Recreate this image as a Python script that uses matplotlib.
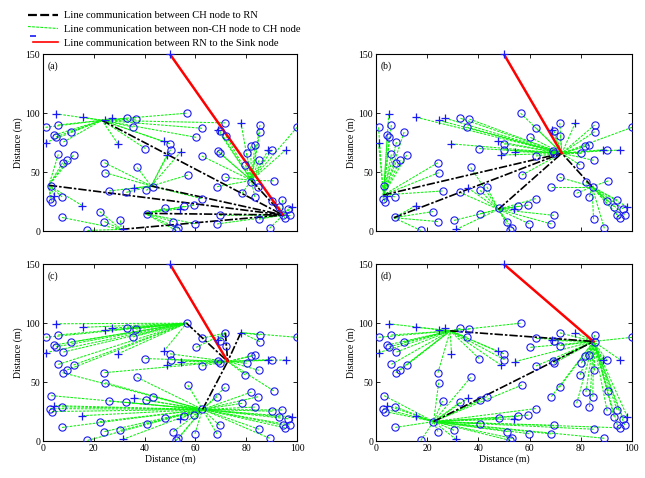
"""
Cluster layouts of the sensor field for four rounds.
"""
import numpy as np
import matplotlib
matplotlib.use("Agg")
from matplotlib import pyplot as plt
from matplotlib.lines import Line2D

plt.rcParams["font.family"] = ["Liberation Serif", "DejaVu Serif"]
plt.rcParams["font.size"] = 7

# sensor nodes drawn with circles
circle_x = [1, 6, 4.5, 5.2, 8, 11, 6, 7.7, 9.5, 12,
            3.2, 2.8, 3.5, 7.5, 7.5, 17.5, 22.3, 24.2, 30.5, 24.2,
            24.5, 26, 32.8, 40.7, 43.3, 37, 33, 36.5, 35.4, 40.3,
            50, 50.2, 56.5, 60.3, 62.6, 62.5, 57, 40.8, 48, 55.6,
            59.5, 62.4, 51.3, 52.4, 53.3, 59.8, 68.5, 69.5, 68.5, 71.7,
            78.4, 83.4, 82, 84.7, 85, 89.2, 90.8, 85, 90.1, 80.2,
            81.8, 83.4, 79.7, 69, 69.6, 69.5, 71.8, 72, 85.4, 85.4,
            100, 90.3, 93, 94.2, 94.3, 95.2, 97.1, 96.6]
circle_y = [88, 90, 81.5, 80, 75.5, 84, 65, 58, 60.3, 64.5,
            38.5, 27.5, 25, 29, 11.5, 0.5, 16.5, 8, 9, 58,
            49.5, 34, 32.8, 34.5, 37.6, 54, 95.7, 95, 88.3, 70,
            74, 69, 100, 79.5, 87.2, 63.7, 47.5, 14.7, 19.2, 21,
            22, 27.5, 8, 0.5, 2.2, 6.2, 6, 13.3, 37.6, 45.6,
            32, 28.8, 41.5, 37.6, 10, 2.3, 42.6, 60, 68.8, 66,
            71.8, 73, 56, 67.5, 66, 85.2, 91.8, 81, 90, 84.3,
            88, 25.3, 20.7, 26.3, 13.6, 11.2, 13.6, 18.8]

# sensor nodes drawn with plus signs
plus_x = [5, 15.8, 24.5, 27, 1, 29.5, 47.5, 48.8, 54.3, 36,
          4.5, 15.5, 31.3, 53.8, 68.7, 77.9, 88.7, 95.5, 98.2]
plus_y = [99.5, 96.5, 94, 95.8, 75, 74, 76, 64.5, 67.4, 36.5,
          30, 21.5, 1.3, 18.8, 86, 92, 69, 68.8, 20.5]

sink_x, sink_y = 50, 150

# relay node (RN) and cluster heads (CH) of each round
rn_x = [94.5, 72.6, 72.7, 85]
rn_y = [13.6, 66, 67.5, 84.5]
ch_x = [
    [23.2, 2.3, 42.6, 40, 30.8, 82],
    [2.9, 7, 47.8, 84.4],
    [56.5, 62.8, 71.8, 77.9],
    [29, 22.5],
]
ch_y = [
    [94, 38.8, 38.2, 15, 1.4, 43],
    [30.6, 11.3, 18.4, 37.6],
    [100, 26.8, 91.8, 92],
    [93.5, 16.5],
]
panel_tags = ["(a)", "(b)", "(c)", "(d)"]

# axes boxes in figure fractions: left, bottom, width, height
boxes = [
    [0.0667, 0.5167, 0.3938, 0.3697],
    [0.5829, 0.5167, 0.3969, 0.3697],
    [0.0667, 0.0774, 0.3938, 0.3697],
    [0.5829, 0.0774, 0.3969, 0.3697],
]

GREEN = (0.05, 0.95, 0.05)
BLUE = (0.1, 0.1, 0.95)
BLACK_DASH = (0, (5, 1.2, 1.5, 1.2))

node_x = np.array(circle_x + plus_x)
node_y = np.array(circle_y + plus_y)

fig = plt.figure(figsize=(6.45, 4.78), dpi=100)

for k in range(4):
    ax = fig.add_axes(boxes[k])
    heads_x = np.array(ch_x[k] + [rn_x[k]])
    heads_y = np.array(ch_y[k] + [rn_y[k]])

    # every node joins its nearest cluster head
    for x, y in zip(node_x, node_y):
        j = np.argmin(np.hypot(heads_x - x, heads_y - y))
        ax.plot([x, heads_x[j]], [y, heads_y[j]], color=GREEN,
                linestyle="--", linewidth=0.75, dashes=(2.5, 1.2), zorder=2)

    # cluster heads to the relay node
    for x, y in zip(ch_x[k], ch_y[k]):
        ax.plot([x, rn_x[k]], [y, rn_y[k]], color="black",
                linestyle=BLACK_DASH, linewidth=1.2, zorder=3)

    # relay node to the sink
    ax.plot([rn_x[k], sink_x], [rn_y[k], sink_y], color="red",
            linewidth=1.8, zorder=4)

    ax.plot(circle_x, circle_y, linestyle="none", marker="o", markersize=5.2,
            markerfacecolor="none", markeredgecolor=BLUE,
            markeredgewidth=0.8, zorder=5)
    ax.plot(plus_x, plus_y, linestyle="none", marker="+", markersize=5.5,
            color=BLUE, markeredgewidth=0.9, zorder=5)
    ax.plot([sink_x], [sink_y], linestyle="none", marker="+",
            markersize=5.5, color=BLUE, markeredgewidth=0.9, zorder=5,
            clip_on=False)

    ax.set_xlim(0, 100)
    ax.set_ylim(0, 150)
    ax.set_xticks(np.arange(0, 101, 20))
    ax.set_yticks([0, 50, 100, 150])
    ax.tick_params(direction="in", length=3, width=0.6, pad=2,
                   top=True, right=True, labelsize=7)
    for s in ax.spines.values():
        s.set_linewidth(0.8)
    ax.set_ylabel("Distance (m)", fontsize=7, labelpad=2)
    if k < 2:
        ax.set_xticklabels([])
    else:
        ax.set_xlabel("Distance (m)", fontsize=7, labelpad=1)
    ax.text(0.02, 0.96, panel_tags[k], transform=ax.transAxes,
            va="top", ha="left", fontsize=7)

# legend drawn in figure pixels, like the original
W, H = 645.0, 478.0


def fx(px):
    return px / W


def fy(py):
    return 1 - py / H


fig.add_artist(Line2D([fx(28), fx(58)], [fy(15), fy(15)], color="black",
                      linestyle=(0, (4, 1.5)), linewidth=1.6,
                      transform=fig.transFigure))
fig.add_artist(Line2D([fx(28), fx(58)], [fy(26.5), fy(28.5)], color=GREEN,
                      linestyle=(0, (2.5, 1.2)), linewidth=0.8,
                      transform=fig.transFigure))
fig.add_artist(Line2D([fx(33)], [fy(36)], color=BLUE, marker="_",
                      markersize=4, markeredgewidth=1.2, linestyle="none",
                      transform=fig.transFigure))
fig.add_artist(Line2D([fx(33), fx(58)], [fy(41.5), fy(41.5)], color="red",
                      linewidth=1.2, transform=fig.transFigure))
legend_text = [
    ("Line communication between CH node to RN", 15),
    ("Line communication between non-CH node to CH node", 29),
    ("Line communication between RN to the Sink node", 44),
]
for label, py in legend_text:
    fig.text(fx(64), fy(py), label, va="center", ha="left", fontsize=7.6)

fig.savefig("out.png", dpi=100)
